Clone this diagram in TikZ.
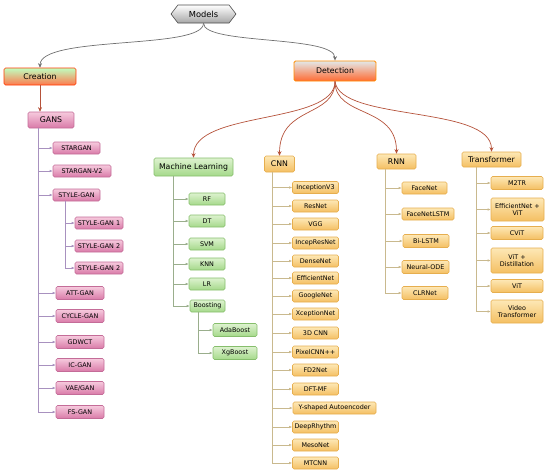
\documentclass[tikz,border=0pt]{standalone}
\usepackage{fontspec}
\setmainfont{DejaVu Sans}
\usetikzlibrary{arrows,arrows.meta,shapes.symbols}

\definecolor{pinktop}{HTML}{F6CADD}
\definecolor{pinkbot}{HTML}{D97AA8}
\definecolor{pinkedge}{HTML}{C46C98}
\definecolor{pinkline}{HTML}{A891BF}
\definecolor{greentop}{HTML}{DDF2CF}
\definecolor{greenbot}{HTML}{A5D98A}
\definecolor{greenedge}{HTML}{86BE6C}
\definecolor{greenline}{HTML}{9AAE8C}
\definecolor{orangetop}{HTML}{FDE8B6}
\definecolor{orangebot}{HTML}{F4BF62}
\definecolor{orangeedge}{HTML}{E6AE4E}
\definecolor{orangeline}{HTML}{C9B98E}
\definecolor{arrowred}{HTML}{B5523A}
\definecolor{arrowgray}{HTML}{707070}

\tikzstyle{box} = [rectangle, rounded corners=1.5pt, inner sep=1pt, align=center,
    text=black, font=\fontsize{6.4}{7}\selectfont]
\tikzstyle{pinkbox} = [box, draw=pinkedge, top color=pinktop, bottom color=pinkbot,
    minimum width=48pt, minimum height=13pt]
\tikzstyle{greenbox} = [box, draw=greenedge, top color=greentop, bottom color=greenbot,
    minimum width=36pt, minimum height=12pt]
\tikzstyle{orangebox} = [box, draw=orangeedge, top color=orangetop, bottom color=orangebot,
    minimum width=46pt, minimum height=12pt]
\tikzstyle{headfont} = [font=\fontsize{7.8}{8}\selectfont]
\tikzstyle{pinkbranch} = [draw=pinkline, line width=0.6pt, -{Latex[length=3pt,width=2.6pt]}]
\tikzstyle{greenbranch} = [draw=greenline, line width=0.6pt, -{Latex[length=3pt,width=2.6pt]}]
\tikzstyle{orangebranch} = [draw=orangeline, line width=0.6pt, -{Latex[length=3pt,width=2.6pt]}]
\tikzstyle{grayarrow} = [draw=arrowgray, line width=0.7pt, -{Stealth[length=4.5pt,width=4pt]}]
\tikzstyle{redarrow} = [draw=arrowred, line width=0.7pt, -{Stealth[length=4.5pt,width=4pt]}]

\begin{document}
\begin{tikzpicture}[x=1pt,y=-1pt,semithick]
  \useasboundingbox (0,0) rectangle (550,472);

  % top levels
  \node[signal, signal to=west and east, signal pointer angle=105, draw=black!70,
        top color=white, bottom color=black!35, minimum width=65pt, minimum height=18pt,
        inner sep=0pt, font=\fontsize{8.3}{9}\selectfont] (models) at (203.5,14) {Models};
  \node[box, headfont, draw=red!55!orange, top color=green!25!white, bottom color=red!50!orange!70!white,
        minimum width=72pt, minimum height=17pt] (crea) at (40,76.5) {Creation};
  \node[box, headfont, draw=orange!90!yellow, line width=0.8pt, top color=cyan!10!gray!20,
        bottom color=red!45!orange!80!white, minimum width=82pt, minimum height=20pt] (det) at (335,71) {Detection};

  \draw[grayarrow] (models.south) .. controls (203.5,50) and (40,35) .. (crea.north);
  \draw[grayarrow] (models.south) .. controls (203.5,45) and (335,35) .. (det.north);

  % creation side
  \node[pinkbox, headfont, minimum width=46pt, minimum height=16pt] (gans) at (51,120) {GANS};
  \draw[redarrow] (crea.south) -- (gans.north -| crea.south);

  \node[pinkbox, minimum width=47pt, minimum height=12pt] (stargan) at (76.5,148) {STARGAN};
  \node[pinkbox, minimum width=58pt, minimum height=12pt] (starganv2) at (82,171) {STARGAN-V2};
  \node[pinkbox, minimum width=47pt, minimum height=12pt] (stylegan) at (76.5,195) {STYLE-GAN};
  \node[pinkbox, minimum height=12pt] (sgone) at (99,223) {STYLE-GAN 1};
  \node[pinkbox, minimum height=12pt] (sgtwo) at (99,246) {STYLE-GAN 2};
  \node[pinkbox, minimum height=12pt] (sgthree) at (99,268) {STYLE-GAN 2};
  \node[pinkbox] (attgan) at (80,293) {ATT-GAN};
  \node[pinkbox] (cyclegan) at (80,316) {CYCLE-GAN};
  \node[pinkbox] (gdwct) at (80,342) {GDWCT};
  \node[pinkbox] (icgan) at (80,365) {IC-GAN};
  \node[pinkbox] (vaegan) at (80,388) {VAE/GAN};
  \node[pinkbox] (fsgan) at (80,412) {FS-GAN};

  \draw[pinkbranch] ([xshift=11pt]gans.south west) |- (stargan.west);
  \draw[pinkbranch] ([xshift=11pt]gans.south west) |- (starganv2.west);
  \draw[pinkbranch] ([xshift=11pt]gans.south west) |- (stylegan.west);
  \draw[pinkbranch] ([xshift=11pt]gans.south west) |- (attgan.west);
  \draw[pinkbranch] ([xshift=11pt]gans.south west) |- (cyclegan.west);
  \draw[pinkbranch] ([xshift=11pt]gans.south west) |- (gdwct.west);
  \draw[pinkbranch] ([xshift=11pt]gans.south west) |- (icgan.west);
  \draw[pinkbranch] ([xshift=11pt]gans.south west) |- (vaegan.west);
  \draw[pinkbranch] ([xshift=11pt]gans.south west) |- (fsgan.west);
  \draw[pinkbranch] ([xshift=13pt]stylegan.south west) |- (sgone.west);
  \draw[pinkbranch] ([xshift=13pt]stylegan.south west) |- (sgtwo.west);
  \draw[pinkbranch] ([xshift=13pt]stylegan.south west) |- (sgthree.west);

  % detection side
  \node[greenbox, headfont, minimum width=79pt, minimum height=18pt] (ml) at (193.5,167) {Machine Learning};
  \node[orangebox, headfont, minimum width=30pt, minimum height=16pt] (cnn) at (279.5,164) {CNN};
  \node[orangebox, headfont, minimum width=39pt, minimum height=15pt] (rnn) at (396.5,161.5) {RNN};
  \node[orangebox, headfont, minimum width=59pt, minimum height=15pt] (trans) at (491.5,159.5) {Transformer};

  \draw[redarrow] (det.south) .. controls (335,125) and (193.5,110) .. (ml.north);
  \draw[redarrow] (det.south) .. controls (335,118) and (279.5,105) .. (cnn.north);
  \draw[redarrow] (det.south) .. controls (335,118) and (396.5,105) .. (rnn.north);
  \draw[redarrow] (det.south) .. controls (340,122) and (491.5,105) .. (trans.north);

  % machine learning
  \node[greenbox] (rf) at (207,199) {RF};
  \node[greenbox] (dt) at (207,221) {DT};
  \node[greenbox] (svm) at (207,244) {SVM};
  \node[greenbox] (knn) at (207,264) {KNN};
  \node[greenbox] (lr) at (207,284) {LR};
  \node[greenbox, minimum width=35pt] (boost) at (207.5,306) {Boosting};
  \node[greenbox, minimum width=44pt, minimum height=13pt] (ada) at (235,330) {AdaBoost};
  \node[greenbox, minimum width=44pt, minimum height=13pt] (xg) at (235,353) {XgBoost};

  \draw[greenbranch] ([xshift=20pt]ml.south west) |- (rf.west);
  \draw[greenbranch] ([xshift=20pt]ml.south west) |- (dt.west);
  \draw[greenbranch] ([xshift=20pt]ml.south west) |- (svm.west);
  \draw[greenbranch] ([xshift=20pt]ml.south west) |- (knn.west);
  \draw[greenbranch] ([xshift=20pt]ml.south west) |- (lr.west);
  \draw[greenbranch] ([xshift=20pt]ml.south west) |- (boost.west);
  \draw[greenbranch] ([xshift=9pt]boost.south west) |- (ada.west);
  \draw[greenbranch] ([xshift=9pt]boost.south west) |- (xg.west);

  % cnn
  \node[orangebox] (incv) at (315.5,187.5) {InceptionV3};
  \node[orangebox] (resnet) at (315.5,206) {ResNet};
  \node[orangebox] (vgg) at (315.5,224) {VGG};
  \node[orangebox] (incres) at (315.5,243) {IncepResNet};
  \node[orangebox] (dense) at (315.5,261) {DenseNet};
  \node[orangebox] (effnet) at (315.5,278) {EfficientNet};
  \node[orangebox] (google) at (315.5,296) {GoogleNet};
  \node[orangebox] (xcep) at (315.5,314) {XceptionNet};
  \node[orangebox] (threed) at (315.5,333) {3D CNN};
  \node[orangebox] (pixel) at (315.5,352) {PixelCNN++};
  \node[orangebox] (fdnet) at (315.5,370) {FD2Net};
  \node[orangebox] (dftmf) at (315.5,389) {DFT-MF};
  \node[orangebox, minimum width=83pt] (yauto) at (334.5,408) {Y-shaped Autoencoder};
  \node[orangebox] (rhythm) at (315.5,427) {DeepRhythm};
  \node[orangebox] (meso) at (315.5,445) {MesoNet};
  \node[orangebox] (mtcnn) at (315.5,463) {MTCNN};

  \draw[orangebranch] ([xshift=8pt]cnn.south west) |- (incv.west);
  \draw[orangebranch] ([xshift=8pt]cnn.south west) |- (resnet.west);
  \draw[orangebranch] ([xshift=8pt]cnn.south west) |- (vgg.west);
  \draw[orangebranch] ([xshift=8pt]cnn.south west) |- (incres.west);
  \draw[orangebranch] ([xshift=8pt]cnn.south west) |- (dense.west);
  \draw[orangebranch] ([xshift=8pt]cnn.south west) |- (effnet.west);
  \draw[orangebranch] ([xshift=8pt]cnn.south west) |- (google.west);
  \draw[orangebranch] ([xshift=8pt]cnn.south west) |- (xcep.west);
  \draw[orangebranch] ([xshift=8pt]cnn.south west) |- (threed.west);
  \draw[orangebranch] ([xshift=8pt]cnn.south west) |- (pixel.west);
  \draw[orangebranch] ([xshift=8pt]cnn.south west) |- (fdnet.west);
  \draw[orangebranch] ([xshift=8pt]cnn.south west) |- (dftmf.west);
  \draw[orangebranch] ([xshift=8pt]cnn.south west) |- (yauto.west);
  \draw[orangebranch] ([xshift=8pt]cnn.south west) |- (rhythm.west);
  \draw[orangebranch] ([xshift=8pt]cnn.south west) |- (meso.west);
  \draw[orangebranch] ([xshift=8pt]cnn.south west) |- (mtcnn.west);

  % rnn
  \node[orangebox, minimum width=45pt] (facenet) at (424.5,188) {FaceNet};
  \node[orangebox, minimum width=52pt] (fnlstm) at (428,214) {FaceNetLSTM};
  \node[orangebox, minimum height=13pt] (bilstm) at (426,241) {Bi-LSTM};
  \node[orangebox, minimum width=47pt, minimum height=13pt] (node) at (425.5,267) {Neural-ODE};
  \node[orangebox, minimum height=13pt] (clr) at (425,293) {CLRNet};

  \draw[orangebranch] ([xshift=9pt]rnn.south west) |- (facenet.west);
  \draw[orangebranch] ([xshift=9pt]rnn.south west) |- (fnlstm.west);
  \draw[orangebranch] ([xshift=9pt]rnn.south west) |- (bilstm.west);
  \draw[orangebranch] ([xshift=9pt]rnn.south west) |- (node.west);
  \draw[orangebranch] ([xshift=9pt]rnn.south west) |- (clr.west);

  % transformer
  \node[orangebox, minimum width=52pt, minimum height=13pt] (mtr) at (517,183) {M2TR};
  \node[orangebox, minimum width=53pt, minimum height=23pt] (effvit) at (517.5,209.5) {EfficientNet +\\ViT};
  \node[orangebox, minimum width=52pt, minimum height=13pt] (cvit) at (517,233) {CViT};
  \node[orangebox, minimum width=52pt, minimum height=25pt] (vitdist) at (517,260.5) {ViT +\\Distillation};
  \node[orangebox, minimum width=52pt, minimum height=13pt] (vit) at (517,286) {ViT};
  \node[orangebox, minimum width=52pt, minimum height=23pt] (video) at (517,311.5) {Video\\Transformer};

  \draw[orangebranch] ([xshift=15pt]trans.south west) |- (mtr.west);
  \draw[orangebranch] ([xshift=15pt]trans.south west) |- (effvit.west);
  \draw[orangebranch] ([xshift=15pt]trans.south west) |- (cvit.west);
  \draw[orangebranch] ([xshift=15pt]trans.south west) |- (vitdist.west);
  \draw[orangebranch] ([xshift=15pt]trans.south west) |- (vit.west);
  \draw[orangebranch] ([xshift=15pt]trans.south west) |- (video.west);
\end{tikzpicture}
\end{document}
